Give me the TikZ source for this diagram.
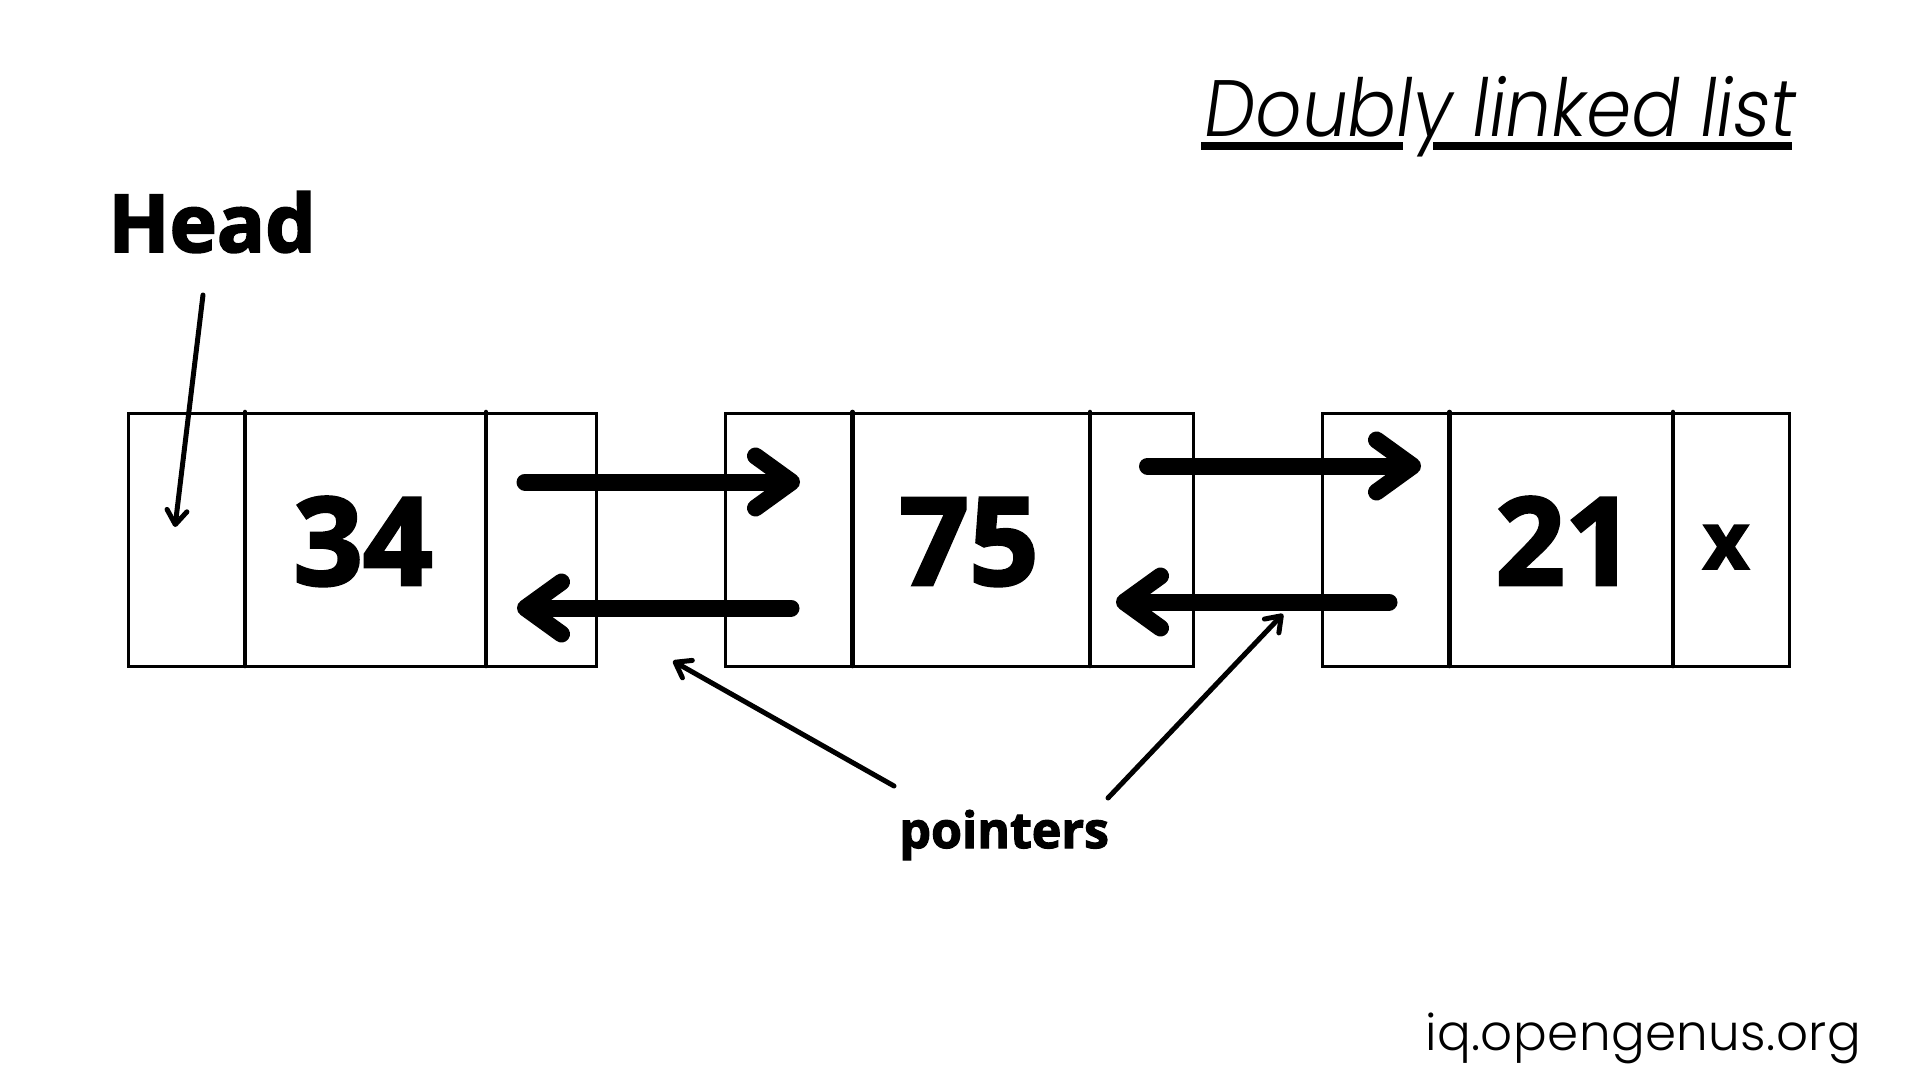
\documentclass[tikz,border=0pt]{standalone}
\usepackage{fontspec}
\usetikzlibrary{arrows.meta}
\setmainfont{Open Sans}[BoldFeatures={FakeBold=2.4}]
\newfontfamily\titlefont{Poppins Light}[FakeSlant=0.14,FakeStretch=0.905]
\newfontfamily\sitefont{Poppins Light}[LetterSpace=0.8]
\tikzset{
  x=0.5pt,y=-0.5pt,
  cellbox/.style={draw=black,line width=1.5pt,inner sep=0pt,outer sep=0pt,minimum height=126.5pt,fill=none},
  divider/.style={draw=black,line width=2.3pt,line cap=round},
  fatarrow/.style={line width=8.5pt,line cap=round,-{Straight Barb[round,length=18pt,width=26pt]}},
  thinarrow/.style={line width=2.5pt,line cap=round,-{Straight Barb[round,length=7pt,width=10pt]}},
  val/.style={inner sep=0pt,anchor=base,font=\bfseries\fontsize{61}{61}\selectfont},
  lab/.style={inner sep=0pt,anchor=base west},
}
\begin{document}
\begin{tikzpicture}
\useasboundingbox (0,0) rectangle (1920,1080);
\fill[white] (0,0) rectangle (1920,1080);
% list boxes
\node[cellbox,minimum width=234pt] (boxa) at (362,539.5) {};
\node[cellbox,minimum width=234pt] (boxb) at (959,539.5) {};
\node[cellbox,minimum width=233.5pt] (boxc) at (1555.5,539.5) {};
\coordinate (a1t) at (245,412); \coordinate (a1b) at (245,666);
\coordinate (a2t) at (486,412); \coordinate (a2b) at (486,666);
\coordinate (b1t) at (852.5,412); \coordinate (b1b) at (852.5,666);
\coordinate (b2t) at (1090,412); \coordinate (b2b) at (1090,666);
\coordinate (c1t) at (1449.5,412); \coordinate (c1b) at (1449.5,666);
\coordinate (c2t) at (1673,412); \coordinate (c2b) at (1673,666);
\draw[divider] (a1t)--(a1b);
\draw[divider] (a2t)--(a2b);
\draw[divider] (b1t)--(b1b);
\draw[divider] (b2t)--(b2b);
\draw[divider] (c1t)--(c1b);
\draw[divider] (c2t)--(c2b);
% values
\node[val] (v34) at (363,585) {34};
\node[val] (v75) at (969,585) {75};
\node[val] (v21) at (1565,585) {21};
\node[val,font=\bfseries\fontsize{40}{40}\selectfont] (vx) at (1726,569) {x};
% fat arrows
\coordinate (p1s) at (525,482); \coordinate (p1e) at (800,482);
\coordinate (p2s) at (791,608); \coordinate (p2e) at (517,608);
\coordinate (p3s) at (1147.5,466); \coordinate (p3e) at (1421,466);
\coordinate (p4s) at (1389,602); \coordinate (p4e) at (1116,602);
\draw[fatarrow] (p1s)--(p1e);
\draw[fatarrow] (p2s)--(p2e);
\draw[fatarrow] (p3s)--(p3e);
\draw[fatarrow] (p4s)--(p4e);
% labels
\node[lab,font=\bfseries\fontsize{40}{40}\selectfont] (head) at (108,252) {Head};
\node[lab,font=\bfseries\fontsize{25}{25}\selectfont] (ptr) at (899,848) {pointers};
\node[lab,font=\titlefont\fontsize{40}{40}\selectfont] (title) at (1201,137) {Doubly linked list};
\node[lab,font=\sitefont\fontsize{25}{25}\selectfont] (site) at (1425,1050) {iq.opengenus.org};
\fill (1201,142) rectangle (1403,150);
\fill (1433,142) rectangle (1792,150);
% thin arrows
\coordinate (h1) at (203,295); \coordinate (h2) at (175,527);
\coordinate (q1) at (894,786); \coordinate (q2) at (673,661);
\coordinate (r1) at (1108,798); \coordinate (r2) at (1283,614);
\draw[thinarrow] (h1)--(h2);
\draw[thinarrow] (q1)--(q2);
\draw[thinarrow] (r1)--(r2);
\end{tikzpicture}
\end{document}
